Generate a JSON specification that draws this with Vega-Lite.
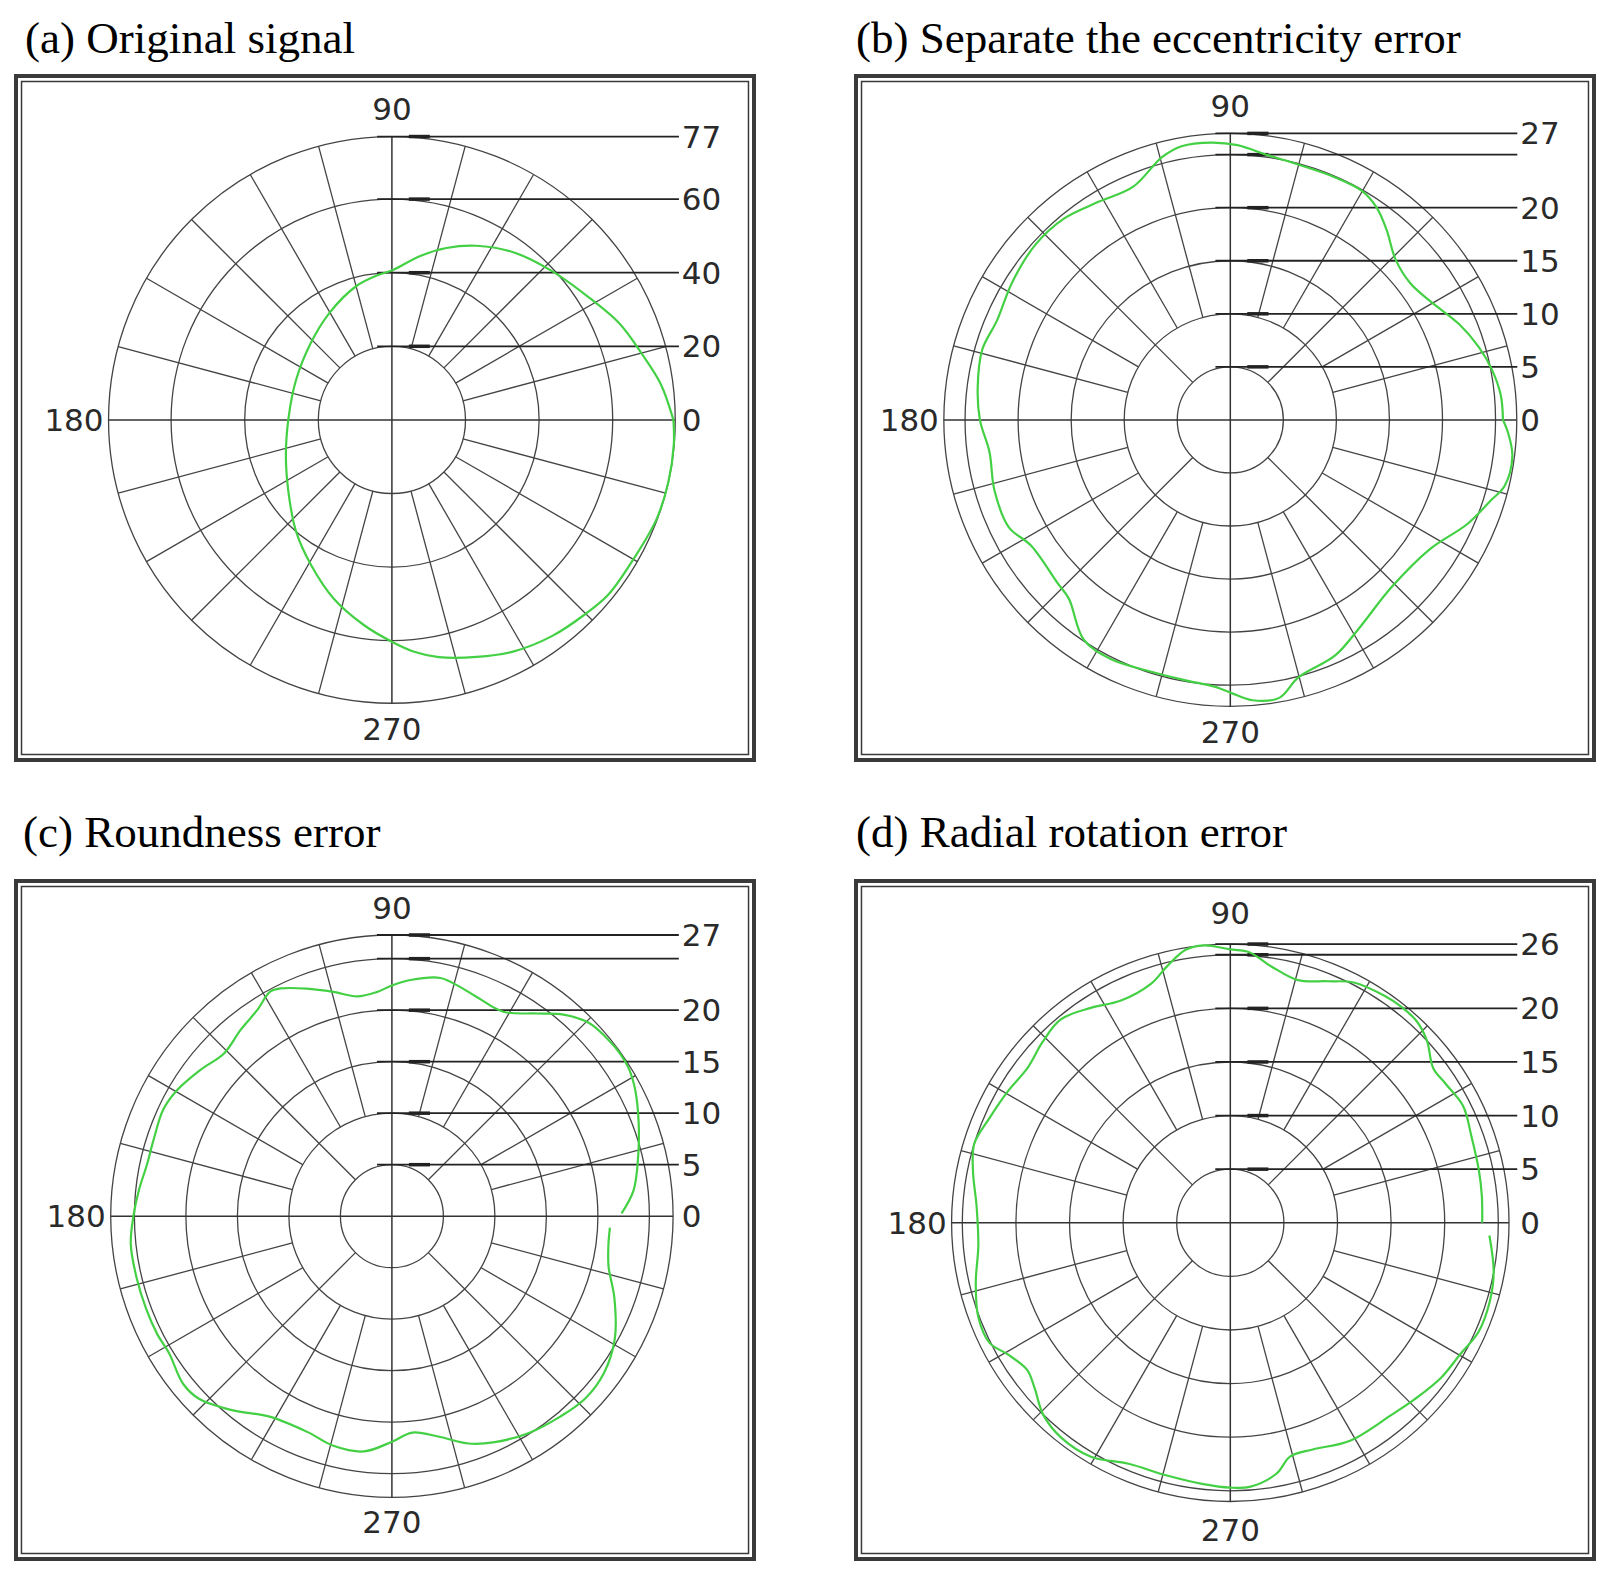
{
  "$schema": "https://vega.github.io/schema/vega-lite/v6.json",
  "background": "white",
  "padding": {"left": 14, "top": 15, "right": 5, "bottom": 5},
  "config": {
    "view": {"stroke": "#3a3a3a", "strokeWidth": 4},
    "axis": {"disable": true},
    "title": {"font": "Liberation Serif", "fontSize": 45, "fontWeight": "normal", "color": "#000000", "anchor": "start", "baseline": "alphabetic"},
    "text": {"font": "DejaVu Sans", "fontSize": 31, "fill": "#2a2a2a"}
  },
  "datasets": {
    "ringsA": [{"r": 20}, {"r": 40}, {"r": 60}, {"r": 77}],
    "ringsB": [{"r": 5}, {"r": 10}, {"r": 15}, {"r": 20}, {"r": 25}, {"r": 27}],
    "ringsC": [{"r": 5}, {"r": 10}, {"r": 15}, {"r": 20}, {"r": 25}, {"r": 27.3}],
    "ringsD": [{"r": 5}, {"r": 10}, {"r": 15}, {"r": 20}, {"r": 25}, {"r": 26}],
    "spokesA": [
      {"t": 15, "r0": 20}, {"t": 30, "r0": 20}, {"t": 45, "r0": 20}, {"t": 60, "r0": 20}, {"t": 75, "r0": 20},
      {"t": 105, "r0": 20}, {"t": 120, "r0": 20}, {"t": 135, "r0": 20}, {"t": 150, "r0": 20}, {"t": 165, "r0": 20},
      {"t": 195, "r0": 20}, {"t": 210, "r0": 20}, {"t": 225, "r0": 20}, {"t": 240, "r0": 20}, {"t": 255, "r0": 20},
      {"t": 285, "r0": 20}, {"t": 300, "r0": 20}, {"t": 315, "r0": 20}, {"t": 330, "r0": 20}, {"t": 345, "r0": 20}
    ],
    "spokesBCD": [
      {"t": 15, "r0": 10}, {"t": 30, "r0": 10}, {"t": 45, "r0": 5}, {"t": 60, "r0": 10}, {"t": 75, "r0": 10},
      {"t": 105, "r0": 10}, {"t": 120, "r0": 10}, {"t": 135, "r0": 5}, {"t": 150, "r0": 10}, {"t": 165, "r0": 10},
      {"t": 195, "r0": 10}, {"t": 210, "r0": 10}, {"t": 225, "r0": 5}, {"t": 240, "r0": 10}, {"t": 255, "r0": 10},
      {"t": 285, "r0": 10}, {"t": 300, "r0": 10}, {"t": 315, "r0": 5}, {"t": 330, "r0": 10}, {"t": 345, "r0": 10}
    ],
    "ticksA": [{"v": 77, "lab": "77"}, {"v": 60, "lab": "60"}, {"v": 40, "lab": "40"}, {"v": 20, "lab": "20"}, {"v": 0, "lab": "0"}],
    "ticksB": [{"v": 27, "lab": "27"}, {"v": 25, "lab": ""}, {"v": 20, "lab": "20"}, {"v": 15, "lab": "15"}, {"v": 10, "lab": "10"}, {"v": 5, "lab": "5"}, {"v": 0, "lab": "0"}],
    "ticksC": [{"v": 27.3, "lab": "27"}, {"v": 25, "lab": ""}, {"v": 20, "lab": "20"}, {"v": 15, "lab": "15"}, {"v": 10, "lab": "10"}, {"v": 5, "lab": "5"}, {"v": 0, "lab": "0"}],
    "ticksD": [{"v": 26, "lab": "26"}, {"v": 25, "lab": ""}, {"v": 20, "lab": "20"}, {"v": 15, "lab": "15"}, {"v": 10, "lab": "10"}, {"v": 5, "lab": "5"}, {"v": 0, "lab": "0"}],
    "curveA": [
      {"t": 0, "r": 76.5}, {"t": 7.6, "r": 73.7}, {"t": 14.7, "r": 70.3}, {"t": 22.9, "r": 67.2}, {"t": 31.7, "r": 63.1},
      {"t": 42.9, "r": 59.4}, {"t": 53.9, "r": 56.3}, {"t": 64.1, "r": 52.6}, {"t": 72.4, "r": 49.0}, {"t": 80.2, "r": 45.2},
      {"t": 90, "r": 40.6}, {"t": 95.2, "r": 39.6}, {"t": 105, "r": 37.6}, {"t": 120.1, "r": 33.7}, {"t": 136.3, "r": 30.4},
      {"t": 157.7, "r": 28.2}, {"t": 179, "r": 28.1}, {"t": 198.6, "r": 30.4}, {"t": 215.3, "r": 34.4}, {"t": 229.2, "r": 39.9},
      {"t": 240.8, "r": 45.1}, {"t": 252, "r": 51.1}, {"t": 262.1, "r": 56.2}, {"t": 270, "r": 60.3}, {"t": 275.1, "r": 63.1},
      {"t": 281.2, "r": 65.7}, {"t": 289.7, "r": 68.4}, {"t": 297.8, "r": 71.1}, {"t": 306.5, "r": 73.1}, {"t": 315, "r": 74.5},
      {"t": 321.1, "r": 75.6}, {"t": 330.5, "r": 75.8}, {"t": 339.4, "r": 76.8}, {"t": 347.3, "r": 77.0}, {"t": 355.1, "r": 76.9},
      {"t": 360, "r": 76.5}
    ],
    "curveB": [
      {"t": 0, "r": 25.7}, {"t": 5.2, "r": 25.6}, {"t": 11, "r": 25.1}, {"t": 16.4, "r": 24.4}, {"t": 22.6, "r": 23.4},
      {"t": 30.8, "r": 21.9}, {"t": 37.2, "r": 21.3}, {"t": 44.1, "r": 21.7}, {"t": 50.6, "r": 23.2}, {"t": 55.4, "r": 24.3},
      {"t": 60.1, "r": 24.9}, {"t": 66.6, "r": 24.9}, {"t": 75.1, "r": 24.9}, {"t": 82, "r": 25.2}, {"t": 88.5, "r": 25.9},
      {"t": 93.9, "r": 26.2}, {"t": 100.1, "r": 26.2}, {"t": 104.5, "r": 25.6}, {"t": 112.7, "r": 23.8}, {"t": 121, "r": 24.0},
      {"t": 129.4, "r": 24.6}, {"t": 138.1, "r": 24.7}, {"t": 147.9, "r": 24.3}, {"t": 156.9, "r": 23.9}, {"t": 164.2, "r": 24.3},
      {"t": 172.8, "r": 24.0}, {"t": 180, "r": 23.6}, {"t": 187.6, "r": 22.9}, {"t": 196.6, "r": 23.2}, {"t": 205.8, "r": 23.2},
      {"t": 212.3, "r": 22.2}, {"t": 223.4, "r": 22.4}, {"t": 227.9, "r": 22.7}, {"t": 236.3, "r": 24.9}, {"t": 243.3, "r": 25.2},
      {"t": 251.7, "r": 24.9}, {"t": 260, "r": 24.9}, {"t": 266.8, "r": 25.2}, {"t": 270, "r": 25.7}, {"t": 274.5, "r": 26.5},
      {"t": 280, "r": 26.6}, {"t": 284.8, "r": 25.1}, {"t": 294, "r": 24.3}, {"t": 301.6, "r": 23.1}, {"t": 313.9, "r": 21.9},
      {"t": 327, "r": 22.4}, {"t": 336.3, "r": 24.4}, {"t": 342.8, "r": 25.7}, {"t": 346.5, "r": 26.6}, {"t": 352.7, "r": 26.8},
      {"t": 357.4, "r": 26.2}, {"t": 360, "r": 25.7}
    ],
    "curveC": [
      {"t": 0.7, "r": 22.3}, {"t": 6.1, "r": 23.6}, {"t": 13.6, "r": 24.6}, {"t": 20.6, "r": 25.6}, {"t": 27.3, "r": 26.6},
      {"t": 31.9, "r": 27.1}, {"t": 35.4, "r": 27.2}, {"t": 39.4, "r": 27.1}, {"t": 44.4, "r": 26.8}, {"t": 49.6, "r": 25.7},
      {"t": 54.4, "r": 24.2}, {"t": 61.4, "r": 22.6}, {"t": 68.6, "r": 22.8}, {"t": 74.3, "r": 23.3}, {"t": 78.5, "r": 23.6},
      {"t": 85.5, "r": 23.0}, {"t": 90, "r": 22.4}, {"t": 93.9, "r": 21.8}, {"t": 99, "r": 21.6}, {"t": 104.6, "r": 22.5},
      {"t": 110.6, "r": 23.6}, {"t": 116, "r": 24.6}, {"t": 118.4, "r": 24.8}, {"t": 123.2, "r": 23.9}, {"t": 129.1, "r": 23.3},
      {"t": 135.9, "r": 22.7}, {"t": 142.6, "r": 23.4}, {"t": 149.7, "r": 24.2}, {"t": 155.1, "r": 24.5}, {"t": 162.2, "r": 24.3},
      {"t": 167.9, "r": 24.3}, {"t": 174.2, "r": 24.7}, {"t": 180, "r": 25.1}, {"t": 186.1, "r": 25.5}, {"t": 193.6, "r": 25.5},
      {"t": 200.6, "r": 25.5}, {"t": 206.8, "r": 25.5}, {"t": 211.6, "r": 25.4}, {"t": 218.8, "r": 26.0}, {"t": 223.3, "r": 25.8},
      {"t": 230.5, "r": 24.4}, {"t": 238.6, "r": 22.8}, {"t": 248.7, "r": 22.5}, {"t": 255.7, "r": 23.0}, {"t": 263.2, "r": 23.0},
      {"t": 270, "r": 21.9}, {"t": 275.4, "r": 21.1}, {"t": 282.1, "r": 21.9}, {"t": 288.7, "r": 23.3}, {"t": 294.5, "r": 24.1},
      {"t": 302.3, "r": 24.9}, {"t": 309.9, "r": 25.4}, {"t": 316.7, "r": 25.8}, {"t": 323.6, "r": 25.6}, {"t": 331.2, "r": 24.7},
      {"t": 339.9, "r": 23.0}, {"t": 346.9, "r": 21.6}, {"t": 352.7, "r": 21.2}, {"t": 357, "r": 21.2}
    ],
    "curveD": [
      {"t": 0, "r": 23.5}, {"t": 6.1, "r": 23.6}, {"t": 11.9, "r": 23.7}, {"t": 19.8, "r": 23.9}, {"t": 26.6, "r": 24.3},
      {"t": 33, "r": 23.9}, {"t": 37.3, "r": 23.8}, {"t": 42.8, "r": 25.0}, {"t": 47.1, "r": 25.6}, {"t": 51.5, "r": 25.7},
      {"t": 55.7, "r": 25.6}, {"t": 62.8, "r": 25.2}, {"t": 68, "r": 24.3}, {"t": 74.4, "r": 23.5}, {"t": 80.8, "r": 24.2},
      {"t": 86, "r": 25.3}, {"t": 90, "r": 25.5}, {"t": 95.5, "r": 26.0}, {"t": 99.3, "r": 25.8}, {"t": 104, "r": 24.6},
      {"t": 108.3, "r": 23.5}, {"t": 116.2, "r": 23.1}, {"t": 123, "r": 23.9}, {"t": 129.9, "r": 24.7}, {"t": 136.2, "r": 24.3},
      {"t": 142.7, "r": 23.8}, {"t": 149.3, "r": 24.1}, {"t": 156.5, "r": 24.5}, {"t": 162.8, "r": 25.0}, {"t": 168.5, "r": 24.5},
      {"t": 176.6, "r": 23.7}, {"t": 185.1, "r": 23.6}, {"t": 193.3, "r": 24.4}, {"t": 200.5, "r": 25.1}, {"t": 206.5, "r": 25.1},
      {"t": 210.7, "r": 24.1}, {"t": 215.9, "r": 23.4}, {"t": 220.2, "r": 23.9}, {"t": 225.7, "r": 25.0}, {"t": 231.7, "r": 25.5},
      {"t": 239.2, "r": 25.4}, {"t": 247.1, "r": 24.4}, {"t": 255.7, "r": 24.3}, {"t": 264.1, "r": 24.5}, {"t": 270, "r": 24.7},
      {"t": 274.2, "r": 24.7}, {"t": 280.4, "r": 23.8}, {"t": 284.4, "r": 22.5}, {"t": 290, "r": 22.5}, {"t": 298.8, "r": 23.2},
      {"t": 310.2, "r": 23.4}, {"t": 316.2, "r": 23.8}, {"t": 323.7, "r": 24.4}, {"t": 330.1, "r": 24.7}, {"t": 336.3, "r": 25.3},
      {"t": 343, "r": 25.3}, {"t": 349.4, "r": 25.0}, {"t": 357.2, "r": 24.2}
    ]
  },
  "resolve": {"scale": {"x": "independent", "y": "independent", "radius": "independent"}},
  "bounds": "flush",
  "columns": 2,
  "spacing": {"row": 121, "column": 102},
  "concat": [
    {
      "width": 738, "height": 684,
      "title": {"text": "(a) Original signal", "dx": 9, "offset": 14},
      "layer": [
        {"data": {"values": [{}]}, "mark": {"type": "rect", "fill": null, "stroke": "#3a3a3a", "strokeWidth": 1.5},
         "encoding": {"x": {"datum": -100.65, "type": "quantitative", "scale": {"domain": [-102.15, 98.4], "nice": false, "zero": false}}, "x2": {"datum": 96.9},
                      "y": {"datum": -90.92, "type": "quantitative", "scale": {"domain": [-92.42, 93.45], "nice": false, "zero": false}}, "y2": {"datum": 91.95}}},
        {"data": {"name": "ringsA"}, "mark": {"type": "arc", "theta": 0, "theta2": 6.2832, "filled": false, "fill": null, "stroke": "#444444", "strokeWidth": 1.3},
         "encoding": {"x": {"datum": 0, "type": "quantitative"}, "y": {"datum": 0, "type": "quantitative"},
                      "radius": {"field": "r", "type": "quantitative", "stack": null, "scale": {"type": "linear", "domain": [0, 100], "range": [0, 368], "zero": true}}}},
        {"data": {"name": "spokesA"},
         "transform": [{"calculate": "datum.r0*cos(datum.t*PI/180)", "as": "xa"}, {"calculate": "datum.r0*sin(datum.t*PI/180)", "as": "ya"},
                       {"calculate": "77*cos(datum.t*PI/180)", "as": "xb"}, {"calculate": "77*sin(datum.t*PI/180)", "as": "yb"}],
         "mark": {"type": "rule", "stroke": "#444444", "strokeWidth": 1.3},
         "encoding": {"x": {"field": "xa", "type": "quantitative"}, "y": {"field": "ya", "type": "quantitative"}, "x2": {"field": "xb"}, "y2": {"field": "yb"}}},
        {"data": {"values": [{}]}, "mark": {"type": "rule", "stroke": "#333333", "strokeWidth": 1.5},
         "encoding": {"x": {"datum": -77}, "x2": {"datum": 77}, "y": {"datum": 0}}},
        {"data": {"values": [{}]}, "mark": {"type": "rule", "stroke": "#333333", "strokeWidth": 1.5},
         "encoding": {"y": {"datum": -77}, "y2": {"datum": 77}, "x": {"datum": 0}}},
        {"data": {"name": "ticksA"}, "transform": [{"filter": "datum.v > 0"}], "mark": {"type": "rule", "stroke": "#222222", "strokeWidth": 1.8},
         "encoding": {"y": {"field": "v", "type": "quantitative"}, "x": {"datum": -4}, "x2": {"datum": 78}}},
        {"data": {"name": "ticksA"}, "transform": [{"filter": "datum.v > 0"}], "mark": {"type": "rule", "stroke": "#222222", "strokeWidth": 3.5},
         "encoding": {"y": {"field": "v", "type": "quantitative"}, "x": {"datum": 4.6}, "x2": {"datum": 10.3}}},
        {"data": {"name": "ticksA"}, "transform": [{"filter": "datum.lab != ''"}], "mark": {"type": "text", "align": "left", "baseline": "alphabetic", "dy": 11},
         "encoding": {"y": {"field": "v", "type": "quantitative"}, "x": {"datum": 78.8}, "text": {"field": "lab"}}},
        {"data": {"values": [{}]}, "mark": {"type": "text", "align": "center", "baseline": "alphabetic", "dy": -17},
         "encoding": {"x": {"datum": 0}, "y": {"datum": 77}, "text": {"value": "90"}}},
        {"data": {"values": [{}]}, "mark": {"type": "text", "align": "center", "baseline": "alphabetic", "dy": 37},
         "encoding": {"x": {"datum": 0}, "y": {"datum": -77}, "text": {"value": "270"}}},
        {"data": {"values": [{}]}, "mark": {"type": "text", "align": "right", "baseline": "alphabetic", "dx": -5, "dy": 11},
         "encoding": {"x": {"datum": -77}, "y": {"datum": 0}, "text": {"value": "180"}}},
        {"data": {"name": "curveA"},
         "transform": [{"calculate": "datum.r*cos(datum.t*PI/180)", "as": "x"}, {"calculate": "datum.r*sin(datum.t*PI/180)", "as": "y"}],
         "mark": {"type": "line", "stroke": "#44d044", "strokeWidth": 2.2, "interpolate": "catmull-rom"},
         "encoding": {"x": {"field": "x", "type": "quantitative"}, "y": {"field": "y", "type": "quantitative"}, "order": {"field": "t", "type": "quantitative"}}}
      ]
    },
    {
      "width": 738, "height": 684,
      "title": {"text": "(b) Separate the eccentricity error", "dx": 0, "offset": 14},
      "layer": [
        {"data": {"values": [{}]}, "mark": {"type": "rect", "fill": null, "stroke": "#3a3a3a", "strokeWidth": 1.5},
         "encoding": {"x": {"datum": -34.76, "type": "quantitative", "scale": {"domain": [-35.28, 34.28], "nice": false, "zero": false}}, "x2": {"datum": 33.76},
                      "y": {"datum": -31.53, "type": "quantitative", "scale": {"domain": [-32.05, 32.41], "nice": false, "zero": false}}, "y2": {"datum": 31.89}}},
        {"data": {"name": "ringsB"}, "mark": {"type": "arc", "theta": 0, "theta2": 6.2832, "filled": false, "fill": null, "stroke": "#444444", "strokeWidth": 1.3},
         "encoding": {"x": {"datum": 0, "type": "quantitative"}, "y": {"datum": 0, "type": "quantitative"},
                      "radius": {"field": "r", "type": "quantitative", "stack": null, "scale": {"type": "linear", "domain": [0, 100], "range": [0, 1061], "zero": true}}}},
        {"data": {"name": "spokesBCD"},
         "transform": [{"calculate": "datum.r0*cos(datum.t*PI/180)", "as": "xa"}, {"calculate": "datum.r0*sin(datum.t*PI/180)", "as": "ya"},
                       {"calculate": "27*cos(datum.t*PI/180)", "as": "xb"}, {"calculate": "27*sin(datum.t*PI/180)", "as": "yb"}],
         "mark": {"type": "rule", "stroke": "#444444", "strokeWidth": 1.3},
         "encoding": {"x": {"field": "xa", "type": "quantitative"}, "y": {"field": "ya", "type": "quantitative"}, "x2": {"field": "xb"}, "y2": {"field": "yb"}}},
        {"data": {"values": [{}]}, "mark": {"type": "rule", "stroke": "#333333", "strokeWidth": 1.5},
         "encoding": {"x": {"datum": -27}, "x2": {"datum": 27}, "y": {"datum": 0}}},
        {"data": {"values": [{}]}, "mark": {"type": "rule", "stroke": "#333333", "strokeWidth": 1.5},
         "encoding": {"y": {"datum": -27}, "y2": {"datum": 27}, "x": {"datum": 0}}},
        {"data": {"name": "ticksB"}, "transform": [{"filter": "datum.v > 0"}], "mark": {"type": "rule", "stroke": "#222222", "strokeWidth": 1.8},
         "encoding": {"y": {"field": "v", "type": "quantitative"}, "x": {"datum": -1.4}, "x2": {"datum": 27.05}}},
        {"data": {"name": "ticksB"}, "transform": [{"filter": "datum.v > 0"}], "mark": {"type": "rule", "stroke": "#222222", "strokeWidth": 3.5},
         "encoding": {"y": {"field": "v", "type": "quantitative"}, "x": {"datum": 1.6}, "x2": {"datum": 3.6}}},
        {"data": {"name": "ticksB"}, "transform": [{"filter": "datum.lab != ''"}], "mark": {"type": "text", "align": "left", "baseline": "alphabetic", "dy": 11},
         "encoding": {"y": {"field": "v", "type": "quantitative"}, "x": {"datum": 27.33}, "text": {"field": "lab"}}},
        {"data": {"values": [{}]}, "mark": {"type": "text", "align": "center", "baseline": "alphabetic", "dy": -16},
         "encoding": {"x": {"datum": 0}, "y": {"datum": 27}, "text": {"value": "90"}}},
        {"data": {"values": [{}]}, "mark": {"type": "text", "align": "center", "baseline": "alphabetic", "dy": 37},
         "encoding": {"x": {"datum": 0}, "y": {"datum": -27}, "text": {"value": "270"}}},
        {"data": {"values": [{}]}, "mark": {"type": "text", "align": "right", "baseline": "alphabetic", "dx": -5, "dy": 11},
         "encoding": {"x": {"datum": -27}, "y": {"datum": 0}, "text": {"value": "180"}}},
        {"data": {"name": "curveB"},
         "transform": [{"calculate": "datum.r*cos(datum.t*PI/180)", "as": "x"}, {"calculate": "datum.r*sin(datum.t*PI/180)", "as": "y"}],
         "mark": {"type": "line", "stroke": "#44d044", "strokeWidth": 2.2, "interpolate": "catmull-rom"},
         "encoding": {"x": {"field": "x", "type": "quantitative"}, "y": {"field": "y", "type": "quantitative"}, "order": {"field": "t", "type": "quantitative"}}}
      ]
    },
    {
      "width": 738, "height": 678,
      "title": {"text": "(c) Roundness error", "dx": 7, "offset": 25},
      "layer": [
        {"data": {"values": [{}]}, "mark": {"type": "rect", "fill": null, "stroke": "#3a3a3a", "strokeWidth": 1.5},
         "encoding": {"x": {"datum": -35.97, "type": "quantitative", "scale": {"domain": [-36.5, 35.16], "nice": false, "zero": false}}, "x2": {"datum": 34.63},
                      "y": {"datum": -32.75, "type": "quantitative", "scale": {"domain": [-33.28, 32.54], "nice": false, "zero": false}}, "y2": {"datum": 32.01}}},
        {"data": {"name": "ringsC"}, "mark": {"type": "arc", "theta": 0, "theta2": 6.2832, "filled": false, "fill": null, "stroke": "#444444", "strokeWidth": 1.3},
         "encoding": {"x": {"datum": 0, "type": "quantitative"}, "y": {"datum": 0, "type": "quantitative"},
                      "radius": {"field": "r", "type": "quantitative", "stack": null, "scale": {"type": "linear", "domain": [0, 100], "range": [0, 1030], "zero": true}}}},
        {"data": {"name": "spokesBCD"},
         "transform": [{"calculate": "datum.r0*cos(datum.t*PI/180)", "as": "xa"}, {"calculate": "datum.r0*sin(datum.t*PI/180)", "as": "ya"},
                       {"calculate": "27.3*cos(datum.t*PI/180)", "as": "xb"}, {"calculate": "27.3*sin(datum.t*PI/180)", "as": "yb"}],
         "mark": {"type": "rule", "stroke": "#444444", "strokeWidth": 1.3},
         "encoding": {"x": {"field": "xa", "type": "quantitative"}, "y": {"field": "ya", "type": "quantitative"}, "x2": {"field": "xb"}, "y2": {"field": "yb"}}},
        {"data": {"values": [{}]}, "mark": {"type": "rule", "stroke": "#333333", "strokeWidth": 1.5},
         "encoding": {"x": {"datum": -27.3}, "x2": {"datum": 27.3}, "y": {"datum": 0}}},
        {"data": {"values": [{}]}, "mark": {"type": "rule", "stroke": "#333333", "strokeWidth": 1.5},
         "encoding": {"y": {"datum": -27.3}, "y2": {"datum": 27.3}, "x": {"datum": 0}}},
        {"data": {"name": "ticksC"}, "transform": [{"filter": "datum.v > 0"}], "mark": {"type": "rule", "stroke": "#222222", "strokeWidth": 1.8},
         "encoding": {"y": {"field": "v", "type": "quantitative"}, "x": {"datum": -1.45}, "x2": {"datum": 27.86}}},
        {"data": {"name": "ticksC"}, "transform": [{"filter": "datum.v > 0"}], "mark": {"type": "rule", "stroke": "#222222", "strokeWidth": 3.5},
         "encoding": {"y": {"field": "v", "type": "quantitative"}, "x": {"datum": 1.65}, "x2": {"datum": 3.7}}},
        {"data": {"name": "ticksC"}, "transform": [{"filter": "datum.lab != ''"}], "mark": {"type": "text", "align": "left", "baseline": "alphabetic", "dy": 11},
         "encoding": {"y": {"field": "v", "type": "quantitative"}, "x": {"datum": 28.15}, "text": {"field": "lab"}}},
        {"data": {"values": [{}]}, "mark": {"type": "text", "align": "center", "baseline": "alphabetic", "dy": -16},
         "encoding": {"x": {"datum": 0}, "y": {"datum": 27.3}, "text": {"value": "90"}}},
        {"data": {"values": [{}]}, "mark": {"type": "text", "align": "center", "baseline": "alphabetic", "dy": 36},
         "encoding": {"x": {"datum": 0}, "y": {"datum": -27.3}, "text": {"value": "270"}}},
        {"data": {"values": [{}]}, "mark": {"type": "text", "align": "right", "baseline": "alphabetic", "dx": -5, "dy": 11},
         "encoding": {"x": {"datum": -27.3}, "y": {"datum": 0}, "text": {"value": "180"}}},
        {"data": {"name": "curveC"},
         "transform": [{"calculate": "datum.r*cos(datum.t*PI/180)", "as": "x"}, {"calculate": "datum.r*sin(datum.t*PI/180)", "as": "y"}],
         "mark": {"type": "line", "stroke": "#44d044", "strokeWidth": 2.2, "interpolate": "catmull-rom"},
         "encoding": {"x": {"field": "x", "type": "quantitative"}, "y": {"field": "y", "type": "quantitative"}, "order": {"field": "t", "type": "quantitative"}}}
      ]
    },
    {
      "width": 738, "height": 678,
      "title": {"text": "(d) Radial rotation error", "dx": 0, "offset": 25},
      "layer": [
        {"data": {"values": [{}]}, "mark": {"type": "rect", "fill": null, "stroke": "#3a3a3a", "strokeWidth": 1.5},
         "encoding": {"x": {"datum": -34.41, "type": "quantitative", "scale": {"domain": [-34.92, 33.93], "nice": false, "zero": false}}, "x2": {"datum": 33.42},
                      "y": {"datum": -30.85, "type": "quantitative", "scale": {"domain": [-31.36, 31.88], "nice": false, "zero": false}}, "y2": {"datum": 31.37}}},
        {"data": {"name": "ringsD"}, "mark": {"type": "arc", "theta": 0, "theta2": 6.2832, "filled": false, "fill": null, "stroke": "#444444", "strokeWidth": 1.3},
         "encoding": {"x": {"datum": 0, "type": "quantitative"}, "y": {"datum": 0, "type": "quantitative"},
                      "radius": {"field": "r", "type": "quantitative", "stack": null, "scale": {"type": "linear", "domain": [0, 100], "range": [0, 1072], "zero": true}}}},
        {"data": {"name": "spokesBCD"},
         "transform": [{"calculate": "datum.r0*cos(datum.t*PI/180)", "as": "xa"}, {"calculate": "datum.r0*sin(datum.t*PI/180)", "as": "ya"},
                       {"calculate": "26*cos(datum.t*PI/180)", "as": "xb"}, {"calculate": "26*sin(datum.t*PI/180)", "as": "yb"}],
         "mark": {"type": "rule", "stroke": "#444444", "strokeWidth": 1.3},
         "encoding": {"x": {"field": "xa", "type": "quantitative"}, "y": {"field": "ya", "type": "quantitative"}, "x2": {"field": "xb"}, "y2": {"field": "yb"}}},
        {"data": {"values": [{}]}, "mark": {"type": "rule", "stroke": "#333333", "strokeWidth": 1.5},
         "encoding": {"x": {"datum": -26}, "x2": {"datum": 26}, "y": {"datum": 0}}},
        {"data": {"values": [{}]}, "mark": {"type": "rule", "stroke": "#333333", "strokeWidth": 1.5},
         "encoding": {"y": {"datum": -26}, "y2": {"datum": 26}, "x": {"datum": 0}}},
        {"data": {"name": "ticksD"}, "transform": [{"filter": "datum.v > 0"}], "mark": {"type": "rule", "stroke": "#222222", "strokeWidth": 1.8},
         "encoding": {"y": {"field": "v", "type": "quantitative"}, "x": {"datum": -1.4}, "x2": {"datum": 26.77}}},
        {"data": {"name": "ticksD"}, "transform": [{"filter": "datum.v > 0"}], "mark": {"type": "rule", "stroke": "#222222", "strokeWidth": 3.5},
         "encoding": {"y": {"field": "v", "type": "quantitative"}, "x": {"datum": 1.6}, "x2": {"datum": 3.55}}},
        {"data": {"name": "ticksD"}, "transform": [{"filter": "datum.lab != ''"}], "mark": {"type": "text", "align": "left", "baseline": "alphabetic", "dy": 11},
         "encoding": {"y": {"field": "v", "type": "quantitative"}, "x": {"datum": 27.05}, "text": {"field": "lab"}}},
        {"data": {"values": [{}]}, "mark": {"type": "text", "align": "center", "baseline": "alphabetic", "dy": -20},
         "encoding": {"x": {"datum": 0}, "y": {"datum": 26}, "text": {"value": "90"}}},
        {"data": {"values": [{}]}, "mark": {"type": "text", "align": "center", "baseline": "alphabetic", "dy": 39},
         "encoding": {"x": {"datum": 0}, "y": {"datum": -26}, "text": {"value": "270"}}},
        {"data": {"values": [{}]}, "mark": {"type": "text", "align": "right", "baseline": "alphabetic", "dx": -5, "dy": 11},
         "encoding": {"x": {"datum": -26}, "y": {"datum": 0}, "text": {"value": "180"}}},
        {"data": {"name": "curveD"},
         "transform": [{"calculate": "datum.r*cos(datum.t*PI/180)", "as": "x"}, {"calculate": "datum.r*sin(datum.t*PI/180)", "as": "y"}],
         "mark": {"type": "line", "stroke": "#44d044", "strokeWidth": 2.2, "interpolate": "catmull-rom"},
         "encoding": {"x": {"field": "x", "type": "quantitative"}, "y": {"field": "y", "type": "quantitative"}, "order": {"field": "t", "type": "quantitative"}}}
      ]
    }
  ]
}
